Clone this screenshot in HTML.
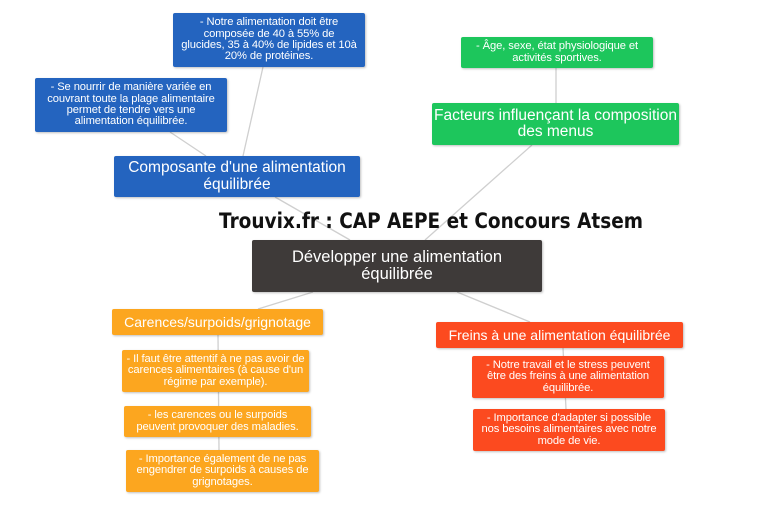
<!DOCTYPE html>
<html><head><meta charset="utf-8"><style>
body{margin:0;width:768px;height:506px;background:#fff;position:relative;overflow:hidden;font-family:"Liberation Sans",Arial,sans-serif}
.b{position:absolute;color:#fff;text-align:center;display:flex;align-items:center;justify-content:center;box-sizing:border-box;border-radius:2px;box-shadow:1px 1px 2px rgba(0,0,0,.25);line-height:1.05;white-space:nowrap}
.s{font-size:11.2px;line-height:1.02;letter-spacing:-0.1px}
.blue{background:#2464bf}.green{background:#1dc65c}.or{background:#fca61f}.red{background:#fc4a1f}
svg{position:absolute;left:0;top:0}
</style></head><body>
<svg width="768" height="506">
<g stroke="#cfcfcf" stroke-width="1.3" fill="none">
<line x1="350" y1="240" x2="275" y2="197"/>
<line x1="243" y1="156" x2="263" y2="67"/>
<line x1="206" y1="156" x2="170" y2="132"/>
<line x1="425" y1="240" x2="532" y2="145"/>
<line x1="556" y1="103" x2="556" y2="68"/>
<line x1="313" y1="292" x2="258" y2="309"/>
<line x1="218" y1="335" x2="219" y2="450"/>
<line x1="457" y1="292" x2="530" y2="322"/>
<line x1="563" y1="348" x2="566" y2="409"/>
</g>
</svg>
<div class="b blue s" style="left:173px;top:13px;width:192px;height:54px">- Notre alimentation doit être<br>composée de 40 à 55% de<br>glucides, 35 à 40% de lipides et 10à<br>20% de protéines.</div>
<div class="b blue s" style="left:35px;top:78px;width:192px;height:54px">- Se nourrir de manière variée en<br>couvrant toute la plage alimentaire<br>permet de tendre vers une<br>alimentation équilibrée.</div>
<div class="b blue" style="left:114px;top:156px;width:246px;height:41px;font-size:15.5px">Composante d'une alimentation<br>équilibrée</div>
<div class="b green s" style="left:461px;top:37px;width:192px;height:31px">- Âge, sexe, état physiologique et<br>activités sportives.</div>
<div class="b green" style="left:432px;top:103px;width:247px;height:42px;font-size:15.5px">Facteurs influençant la composition<br>des menus</div>
<svg width="768" height="506"><text x="219" y="228" font-family="'DejaVu Sans',sans-serif" font-weight="bold" font-size="21" fill="#111" textLength="424" lengthAdjust="spacingAndGlyphs">Trouvix.fr : CAP AEPE et Concours Atsem</text></svg>
<div class="b" style="left:252px;top:240px;width:290px;height:52px;background:#3e3a39;font-size:16.5px">Développer une alimentation<br>équilibrée</div>
<div class="b or" style="left:112px;top:309px;width:211px;height:26px;font-size:14px">Carences/surpoids/grignotage</div>
<div class="b or s" style="left:122px;top:350px;width:187px;height:42px">- Il faut être attentif à ne pas avoir de<br>carences alimentaires (à cause d'un<br>régime par exemple).</div>
<div class="b or s" style="left:124px;top:406px;width:187px;height:31px">- les carences ou le surpoids<br>peuvent provoquer des maladies.</div>
<div class="b or s" style="left:126px;top:450px;width:193px;height:42px">- Importance également de ne pas<br>engendrer de surpoids à causes de<br>grignotages.</div>
<div class="b red" style="left:436px;top:322px;width:247px;height:26px;font-size:14px">Freins à une alimentation équilibrée</div>
<div class="b red s" style="left:472px;top:356px;width:192px;height:42px">- Notre travail et le stress peuvent<br>être des freins à une alimentation<br>équilibrée.</div>
<div class="b red s" style="left:473px;top:409px;width:192px;height:42px">- Importance d'adapter si possible<br>nos besoins alimentaires avec notre<br>mode de vie.</div>
</body></html>
